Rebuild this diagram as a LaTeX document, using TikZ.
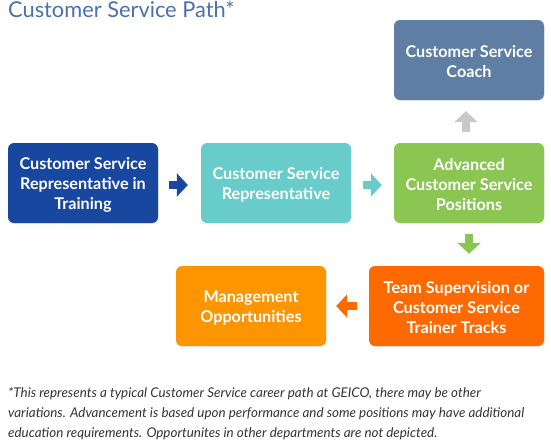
\documentclass[tikz,border=0pt]{standalone}
\usepackage{fontspec}
\setmainfont{Lato}
\usetikzlibrary{arrows.meta,calc,shadows}
\definecolor{cblue}{HTML}{17479E}
\definecolor{cteal}{HTML}{68CCCA}
\definecolor{cgreen}{HTML}{8BC652}
\definecolor{ccoach}{HTML}{5F7EA4}
\definecolor{corange}{HTML}{FF6A00}
\definecolor{cmgmt}{HTML}{FD9500}
\definecolor{cgrayarr}{HTML}{C8C8C8}
\definecolor{ctitle}{HTML}{4A70AE}
\definecolor{cnote}{HTML}{333333}
\tikzset{
  stepbox/.style={rounded corners=6pt, inner sep=0pt,
    minimum width=150pt, minimum height=80pt,
    drop shadow={opacity=0.12, shadow xshift=0.8pt, shadow yshift=-1.2pt}},
  boxtext/.style={text=white, align=center, inner sep=0pt, yshift=-2pt,
    font=\fontsize{16.2}{20}\selectfont\bfseries},
  blockarr/.style={line width=8pt, -{Triangle[width=23pt,length=11pt]}}
}
\begin{document}
\begin{tikzpicture}[x=1pt,y=-1pt]
\useasboundingbox (0,0) rectangle (551,440);
% title
\node[anchor=base west, inner sep=0pt, text=ctitle, font=\fontsize{21.8}{24}\selectfont] (title) at (8,17) {Customer Service Path*};
% boxes
\node[stepbox, fill=cblue, label={[boxtext]center:{Customer Service\\Representative in\\Training}}] (b1) at (83,183) {};
\node[stepbox, fill=cteal, label={[boxtext]center:{Customer Service\\Representative}}] (b2) at (276,183) {};
\node[stepbox, fill=cgreen, label={[boxtext]center:{Advanced\\Customer Service\\Positions}}] (b3) at (469,183) {};
\node[stepbox, fill=ccoach, label={[boxtext]center:{Customer Service\\Coach}}] (b4) at (469,60) {};
\node[stepbox, fill=corange, minimum width=175pt, label={[boxtext]center:{Team Supervision or\\Customer Service\\Trainer Tracks}}] (b5) at (456.5,306) {};
\node[stepbox, fill=cmgmt, label={[boxtext]center:{Management\\Opportunities}}] (b6) at (251,306) {};
% arrows
\draw[blockarr, draw=cblue] ($(b1.east)+(11,2)$) -- ($(b2.west)+(-13,2)$);
\draw[blockarr, draw=cteal] ($(b2.east)+(12,2)$) -- ($(b3.west)+(-12,2)$);
\draw[blockarr, draw=cgrayarr] ($(b3.north)+(-3,-11)$) -- ($(b4.south)+(-3,11)$);
\draw[blockarr, draw=cgreen] ($(b3.south)+(0,11)$) -- ($(b5.north)+(12.5,-12)$);
\draw[blockarr, draw=corange] ($(b5.west)+(-12,0)$) -- ($(b6.east)+(10,0)$);
% footnote
\node[anchor=base west, inner sep=0pt, text=cnote, align=left,
  font=\fontsize{13.4}{20}\selectfont\itshape] (note) at (8,437)
  {*This represents a typical Customer Service career path at GEICO, there may be other\\
   variations. Advancement is based upon performance and some positions may have additional\\
   education requirements. Opportunites in other departments are not depicted.};
\end{tikzpicture}
\end{document}
